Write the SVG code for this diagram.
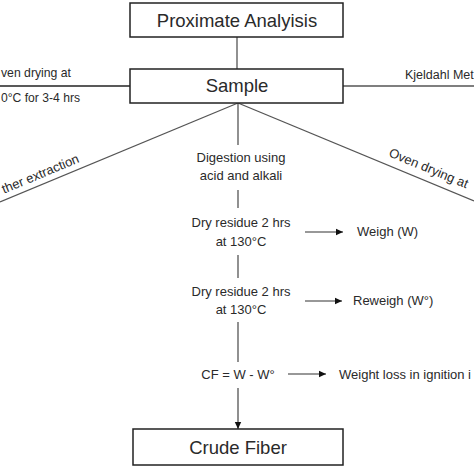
<svg xmlns="http://www.w3.org/2000/svg" width="474" height="474" viewBox="0 0 474 474">
<defs>
<marker id="ah" markerWidth="8" markerHeight="8" refX="7" refY="4" orient="auto" markerUnits="userSpaceOnUse">
<path d="M0,0.8 L7,4 L0,7.2 Z" fill="#111"/>
</marker>
<style>
.box{fill:#fff;stroke:#222;stroke-width:1.5}
.ln{stroke:#555;stroke-width:1.3;fill:none}
.hl{stroke:#222;stroke-width:1.6;fill:none}
.ar{stroke:#333;stroke-width:1.1;fill:none;marker-end:url(#ah)}
text{font-family:"Liberation Sans",Arial,sans-serif;fill:#2a2a2a}
.big{font-size:18.5px}
.sm{font-size:13px}
.c{text-anchor:middle}
</style>
</defs>
<rect width="474" height="474" fill="#fff"/>
<g id="connectors">
<line class="ln" x1="237" y1="37" x2="237" y2="69"/>
<line class="hl" x1="0" y1="86" x2="130" y2="86"/>
<line class="ln" x1="343" y1="86" x2="474" y2="86"/>
<line class="ln" x1="238" y1="103" x2="0" y2="202"/>
<line class="ln" x1="238" y1="103" x2="474" y2="201"/>
<line class="ln" x1="238" y1="103" x2="238" y2="145"/>
<line class="ln" x1="238" y1="190" x2="238" y2="208"/>
<line class="ln" x1="238" y1="255" x2="238" y2="278"/>
<line class="ln" x1="238" y1="322" x2="238" y2="362"/>
<line class="ar" x1="238" y1="388" x2="238" y2="429"/>
<line class="ar" x1="305" y1="232" x2="343" y2="232"/>
<line class="ar" x1="305" y1="301" x2="342" y2="301"/>
<line class="ar" x1="288" y1="374" x2="326" y2="374"/>
<text class="sm" x="1" y="77" textLength="70" lengthAdjust="spacingAndGlyphs">ven drying at</text>
<text class="sm" x="1" y="102" textLength="79" lengthAdjust="spacingAndGlyphs">0°C for 3-4 hrs</text>
<text x="405" y="79" font-size="12.5px">Kjeldahl Met</text>
<text class="sm" x="80" y="162" text-anchor="end" transform="rotate(-22.6 80 162)">ther extraction</text>
<text class="sm" x="388" y="156" transform="rotate(22.6 388 156)">Oven drying at</text>
</g>
<g id="proximate">
<rect class="box" x="130" y="3" width="213" height="34"/>
<text class="big c" x="237" y="27">Proximate Analyisis</text>
</g>
<g id="sample">
<rect class="box" x="130" y="69" width="213" height="34"/>
<text class="big c" x="237" y="92">Sample</text>
</g>
<g id="digestion">
<text class="sm c" x="241" y="162">Digestion using</text>
<text class="sm c" x="241" y="180">acid and alkali</text>
</g>
<g id="dry1">
<text class="sm c" x="241" y="227">Dry residue 2 hrs</text>
<text class="sm c" x="241" y="246">at 130°C</text>
</g>
<g id="weigh">
<text class="sm" x="357" y="236">Weigh (W)</text>
</g>
<g id="dry2">
<text class="sm c" x="241" y="296">Dry residue 2 hrs</text>
<text class="sm c" x="241" y="314">at 130°C</text>
</g>
<g id="reweigh">
<text class="sm" x="353" y="305">Reweigh (W°)</text>
</g>
<g id="cf">
<text class="sm c" x="238" y="379">CF = W - W°</text>
</g>
<g id="weightloss">
<text class="sm" x="339" y="379">Weight loss in ignition i</text>
</g>
<g id="crudefiber">
<rect class="box" x="133" y="429" width="210" height="36"/>
<text class="big c" x="238" y="454">Crude Fiber</text>
</g>
</svg>
